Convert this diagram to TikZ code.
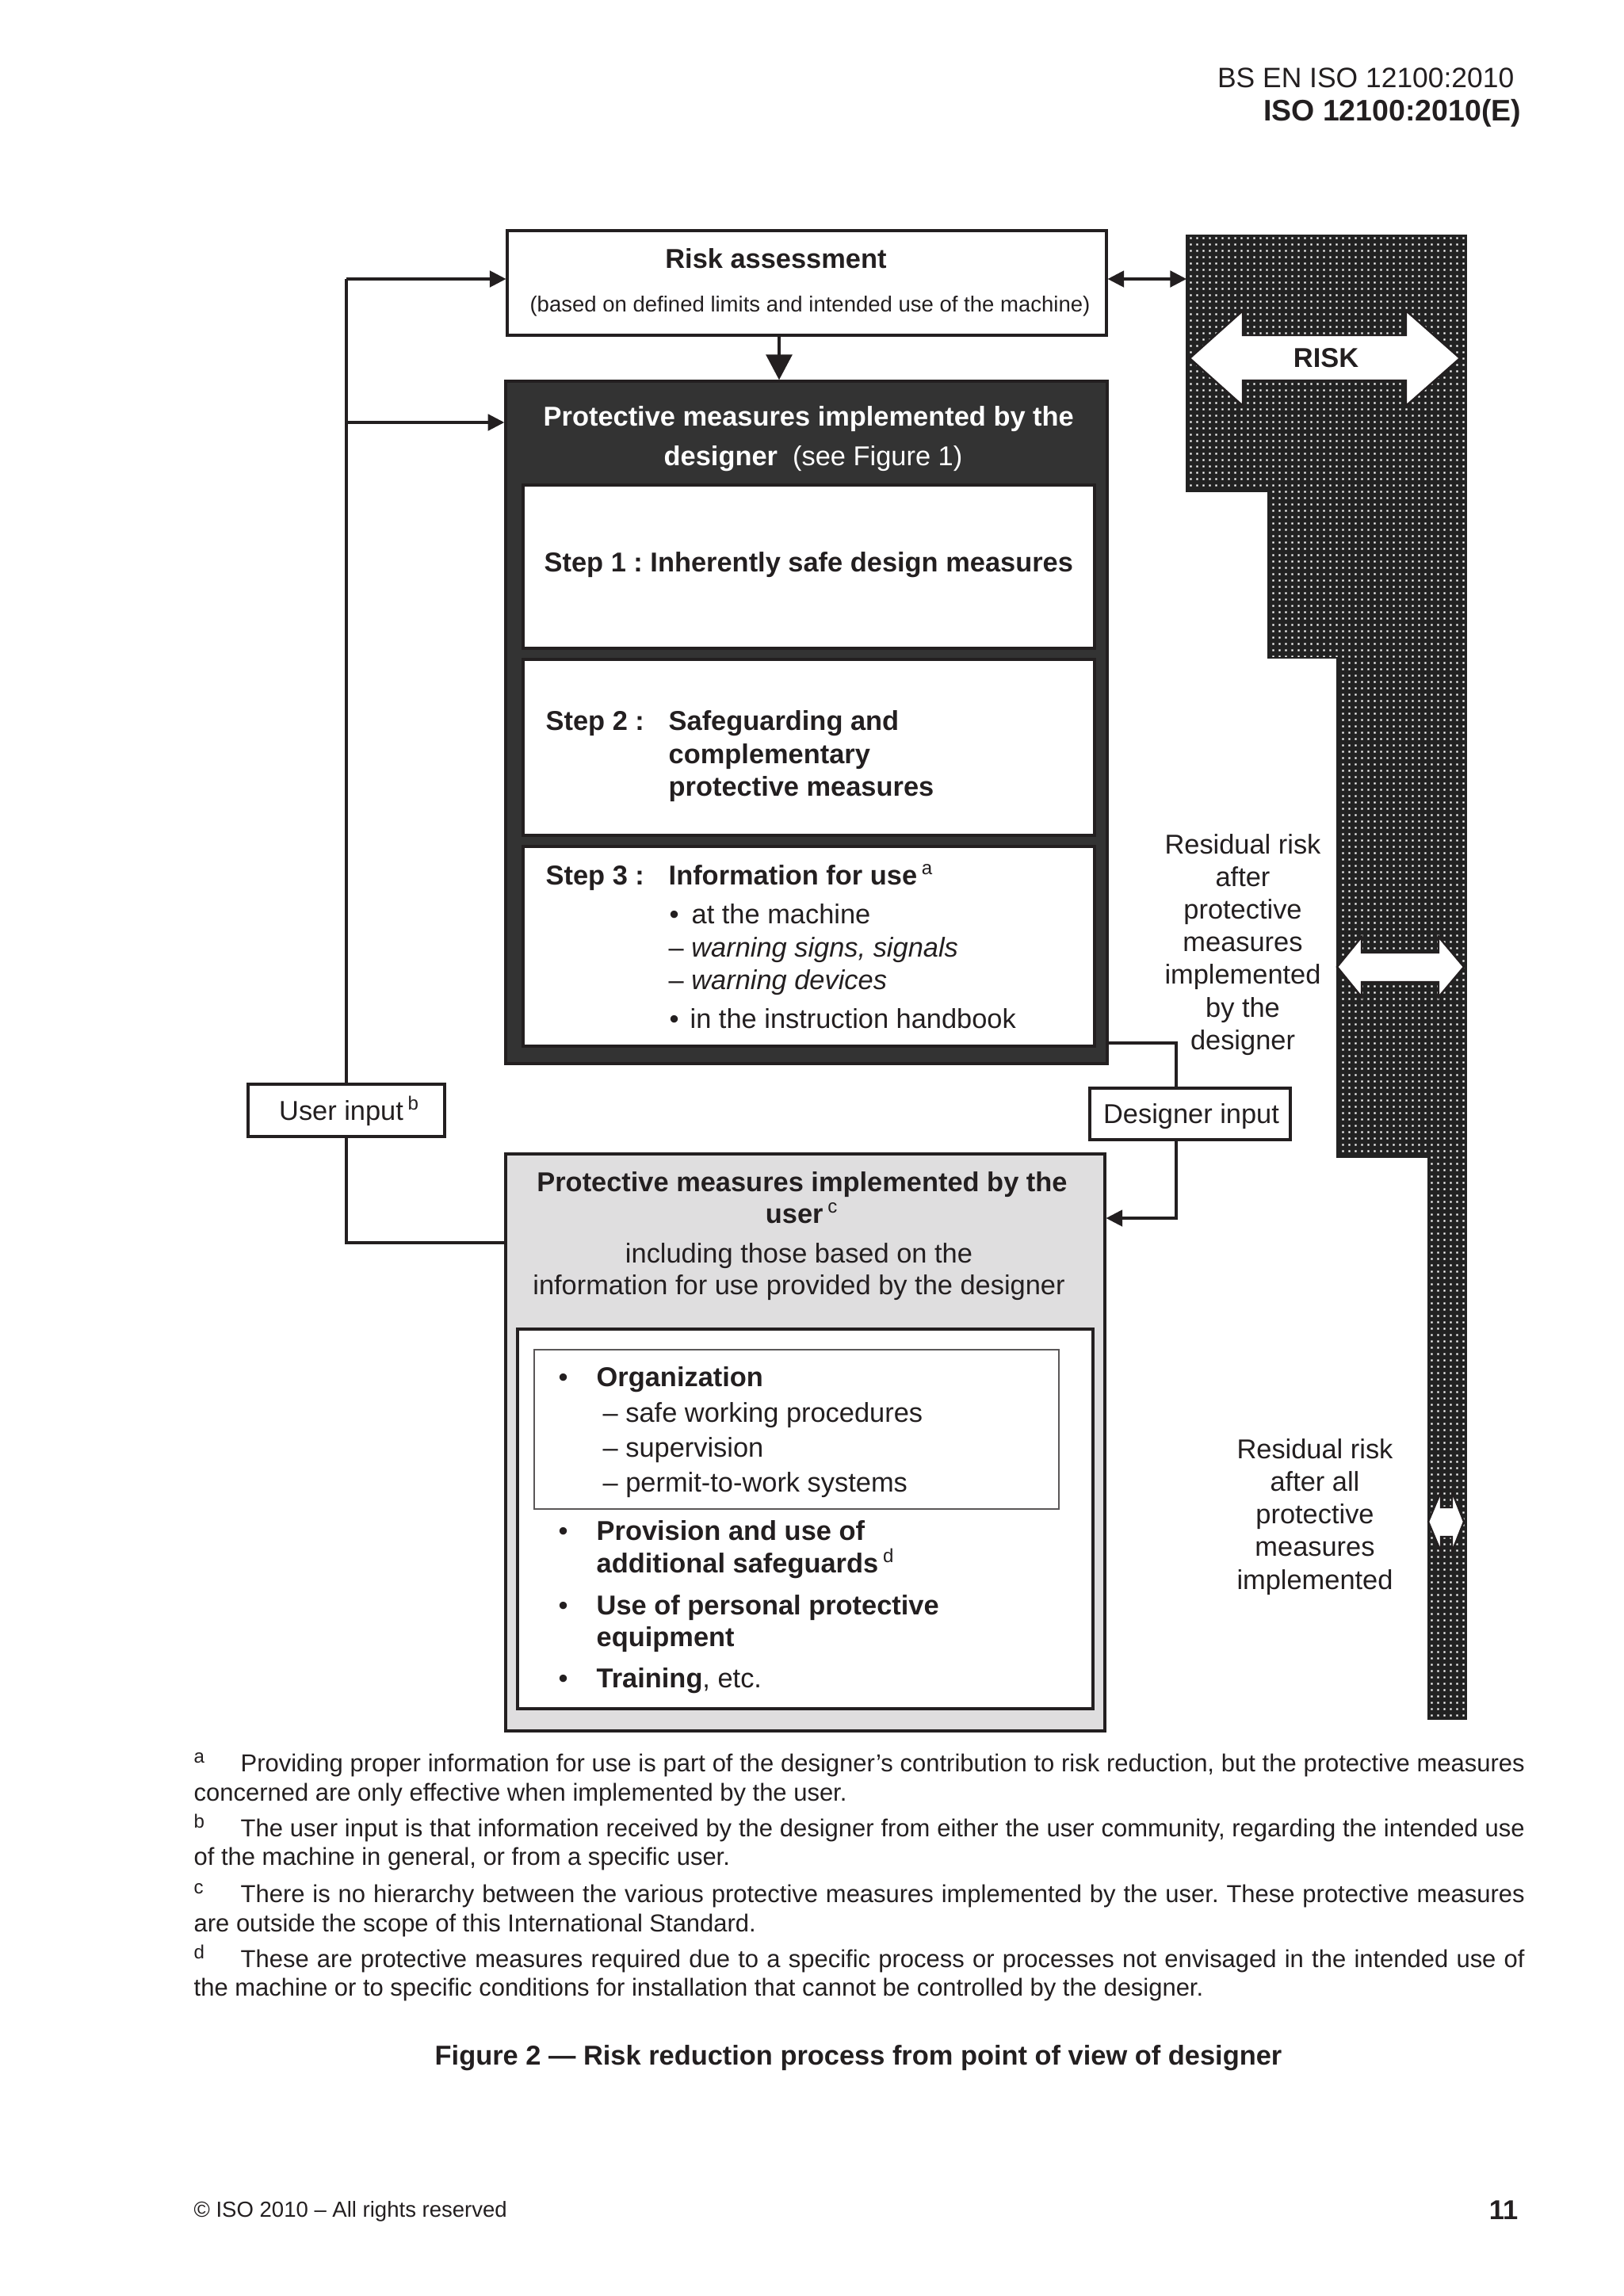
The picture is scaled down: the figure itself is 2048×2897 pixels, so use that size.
\documentclass[tikz,border=0pt]{standalone}
\usepackage{fontspec}
\setmainfont{Liberation Sans}
\usetikzlibrary{arrows.meta,fit,patterns}
\pgfdeclarepatternformonly{riskdots}{\pgfqpoint{0pt}{0pt}}{\pgfqpoint{2.33pt}{2.33pt}}{\pgfqpoint{2.33pt}{2.33pt}}{%
  \pgfpathrectangle{\pgfqpoint{0.78pt}{0.78pt}}{\pgfqpoint{0.72pt}{0.72pt}}\pgfusepath{fill}}
\definecolor{ink}{HTML}{231F20}
\definecolor{darkfill}{HTML}{333333}
\definecolor{userfill}{HTML}{DFDEDF}
\definecolor{colfill}{HTML}{222222}
\frenchspacing
\begin{document}
\begin{tikzpicture}[x=0.29066pt, y=-0.29066pt,
  box/.style={draw=ink, line width=0.9pt, inner sep=0pt},
  t10/.style={inner sep=0pt, text=ink, font=\fontsize{10}{12}\selectfont},
  b10/.style={inner sep=0pt, text=ink, font=\fontsize{10}{12}\selectfont\bfseries},
  t8/.style={inner sep=0pt, text=ink, font=\fontsize{8}{10}\selectfont},
  fn/.style={inner sep=0pt, text=ink, font=\fontsize{9}{11}\selectfont\frenchspacing, anchor=base west},
  fnm/.style={inner sep=0pt, text=ink, font=\fontsize{7}{8}\selectfont, anchor=base west},
  conn/.style={draw=ink, line width=0.9pt},
  arr/.style={conn, -{Triangle[length=6pt,width=6pt]}},
  bigarrow/.style={fill=white, draw=ink, line width=0.7pt, line join=miter}
]
% page
\fill[white] (0,0) rectangle (2048,2897);
\useasboundingbox (0,0) rectangle (2048,2897);

% header
\node[anchor=base east, inner sep=0, text=ink, font=\fontsize{10.3}{12}\selectfont] (h1) at (1911,110) {BS EN ISO 12100:2010};
\node[anchor=base east, inner sep=0, text=ink, font=\fontsize{10.9}{12}\selectfont\bfseries] (h2) at (1920,152) {ISO 12100:2010(E)};

% risk column
\path[preaction={fill=colfill}, pattern=riskdots, pattern color=white, draw=colfill, line width=0.5pt]
  (1497,297) -- (1850,297) -- (1850,2169) -- (1802,2169) -- (1802,1460) -- (1687,1460)
  -- (1687,830) -- (1600,830) -- (1600,620) -- (1497,620) -- cycle;

% risk arrows
\draw[bigarrow] (1501,452) -- (1568,392) -- (1568,423) -- (1774,423) -- (1774,392) -- (1842,452)
  -- (1774,512) -- (1774,480) -- (1568,480) -- (1568,512) -- cycle;
\node[b10, anchor=base] (risk) at (1673,463) {RISK};
\draw[bigarrow] (1687,1220) -- (1718,1182) -- (1718,1202) -- (1815,1202) -- (1815,1182) -- (1847,1220)
  -- (1815,1258) -- (1815,1239) -- (1718,1239) -- (1718,1258) -- cycle;
\draw[bigarrow] (1802,1920) -- (1818,1882) -- (1818,1902) -- (1832,1902) -- (1832,1882) -- (1847,1920)
  -- (1832,1958) -- (1832,1939) -- (1818,1939) -- (1818,1958) -- cycle;

% residual risk texts
\foreach \t [count=\i from 0] in {Residual risk, after, protective, measures, implemented, by the, designer}
  \node[t10, anchor=base] (rr\i) at (1568,1077+41.2*\i) {\t};
\foreach \t [count=\i from 0] in {Residual risk, after all, protective, measures, implemented}
  \node[t10, anchor=base] (ra\i) at (1659,1840+41.3*\i) {\t};

% risk assessment box
\node[box, fit={(640,291) (1396,423)}] (ra) {};
\node[b10, anchor=base] (ratitle) at (979,338) {Risk assessment};
\node[t8, anchor=base] (rasub) at (1022,393) {(based on defined limits and intended use of the machine)};

% designer box
\node[box, fill=darkfill, line width=1pt, fit={(638,481) (1397,1342)}] (dk) {};
\node[b10, text=white, anchor=base west] (dt1) at (685,537) {Protective measures implemented by the};
\node[b10, text=white, anchor=base west] (dt2) at (837,587) {designer\ \ \mdseries(see Figure 1)};
\node[box, fill=white, fit={(660,612) (1381,818)}] (st1) {};
\node[box, fill=white, fit={(660,832) (1381,1054)}] (st2) {};
\node[box, fill=white, fit={(660,1068) (1381,1320)}] (st3) {};
\node[b10, anchor=base west] (s1) at (686,721) {Step 1 : Inherently safe design measures};
\node[b10, anchor=base west] (s2a) at (688,921) {Step 2 :};
\node[b10, anchor=base west] (s2b) at (843,921) {Safeguarding and};
\node[b10, anchor=base west] (s2c) at (843,963) {complementary};
\node[b10, anchor=base west] (s2d) at (843,1004) {protective measures};
\node[b10, anchor=base west] (s3a) at (688,1116) {Step 3 :};
\node[b10, anchor=base west] (s3b) at (843,1116) {Information for use\,\textsuperscript{\mdseries a}};
\node[t10, anchor=base west] (s3c0) at (844,1165) {•};
\node[t10, anchor=base west] (s3c) at (872,1165) {at the machine};
\node[t10, anchor=base west] (s3d) at (843,1207) {– \textit{warning signs, signals}};
\node[t10, anchor=base west] (s3e) at (843,1248) {– \textit{warning devices}};
\node[t10, anchor=base west] (s3f0) at (844,1297) {•};
\node[t10, anchor=base west] (s3f) at (870,1297) {in the instruction handbook};

% input boxes
\node[box, fit={(313,1368) (561,1434)}] (ui) {};
\node[t10, anchor=base] (uit) at (441,1413) {User input\,\textsuperscript{b}};
\node[box, fit={(1375,1373) (1628,1438)}] (di) {};
\node[t10, anchor=base] (dit) at (1503,1417) {Designer input};

% user box
\node[box, fill=userfill, fit={(638,1456) (1394,2184)}] (ub) {};
\node[b10, anchor=base] (ut1) at (1012,1503) {Protective measures implemented by the};
\node[b10, anchor=base] (ut2) at (1012,1543) {user\,\textsuperscript{\mdseries c}};
\node[t10, anchor=base] (ut3) at (1008,1593) {including those based on the};
\node[t10, anchor=base] (ut4) at (1008,1633) {information for use provided by the designer};
\node[box, fill=white, line width=1.1pt, fit={(653,1677) (1379,2156)}] (uw) {};
\node[draw=ink!75, line width=0.6pt, inner sep=0pt, fit={(674,1703) (1336,1904)}] (ut) {};
\node[t10, anchor=base west] (bu1) at (704,1749) {•};
\node[b10, anchor=base west] (o1) at (752,1749) {Organization};
\node[t10, anchor=base west] (o2) at (760,1794) {– safe working procedures};
\node[t10, anchor=base west] (o3) at (760,1838) {– supervision};
\node[t10, anchor=base west] (o4) at (760,1882) {– permit-to-work systems};
\node[t10, anchor=base west] (bu2) at (704,1943) {•};
\node[b10, anchor=base west] (p1) at (752,1943) {Provision and use of};
\node[b10, anchor=base west] (p2) at (752,1984) {additional safeguards\,\textsuperscript{\mdseries d}};
\node[t10, anchor=base west] (bu3) at (704,2037) {•};
\node[b10, anchor=base west] (q1) at (752,2037) {Use of personal protective};
\node[b10, anchor=base west] (q2) at (752,2077) {equipment};
\node[t10, anchor=base west] (bu4) at (704,2129) {•};
\node[b10, anchor=base west] (r1) at (752,2129) {Training\mdseries, etc.};

% connectors
\coordinate (lt) at (437,352);
\coordinate (lm) at (437,533);
\coordinate (ul) at (437,1568);
\coordinate (ax) at (983,0);
\coordinate (cl) at (1497,352);
\coordinate (dx) at (1484,1316);
\coordinate (dy) at (1484,1537);
\draw[arr] (lt) -- (ra.west |- lt);
\draw[arr] (lm) -- (dk.west |- lm);
\draw[conn] (lt) -- (ui.north);
\draw[conn] (ui.south) -- (ul) -- (ub.west |- ul);
\draw[conn, -{Triangle[length=9.3pt,width=9.6pt]}] (ra.south -| ax) -- (dk.north -| ax);
\draw[conn, {Triangle[length=6pt,width=6pt]}-{Triangle[length=6pt,width=6pt]}] (ra.east |- lt) -- (cl);
\draw[conn] (dk.east |- dx) -- (dx) -- (di.north -| dx);
\draw[arr] (di.south -| dx) -- (dy) -- (ub.east |- dy);

% footnotes
\node[fnm] (fam) at (244,2224) {a};
\node[fn] (fa1) at (303,2235) {\makebox[470.9pt][s]{Providing proper information for use is part of the designer's contribution to risk reduction, but the protective measures}};
\node[fn] (fa2) at (244,2272) {concerned are only effective when implemented by the user.};
\node[fnm] (fbm) at (244,2306) {b};
\node[fn] (fb1) at (303,2317) {\makebox[470.9pt][s]{The user input is that information received by the designer from either the user community, regarding the intended use}};
\node[fn] (fb2) at (244,2353) {of the machine in general, or from a specific user.};
\node[fnm] (fcm) at (244,2389) {c};
\node[fn] (fc1) at (303,2400) {\makebox[470.9pt][s]{There is no hierarchy between the various protective measures implemented by the user. These protective measures}};
\node[fn] (fc2) at (244,2437) {are outside the scope of this International Standard.};
\node[fnm] (fdm) at (244,2471) {d};
\node[fn] (fd1) at (303,2482) {\makebox[470.9pt][s]{These are protective measures required due to a specific process or processes not envisaged in the intended use of}};
\node[fn] (fd2) at (244,2518) {the machine or to specific conditions for installation that cannot be controlled by the designer.};

% caption and footer
\node[b10, anchor=base] (cap) at (1083,2605) {Figure 2 — Risk reduction process from point of view of designer};
\node[t8, anchor=base west] (ft) at (244,2797) {© ISO 2010 – All rights reserved};
\node[b10, anchor=base east] (pg) at (1916,2800) {11};
\end{tikzpicture}
\end{document}
